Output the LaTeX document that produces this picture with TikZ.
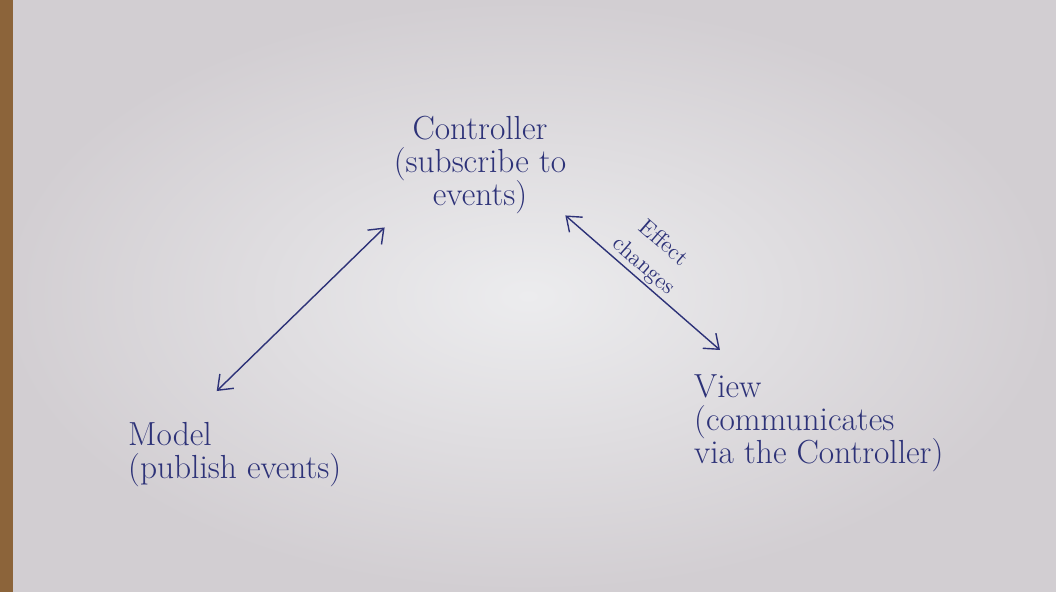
\documentclass[tikz,border=0pt]{standalone}
\usepackage{amsmath}
\usetikzlibrary{arrows.meta}

\definecolor{ink}{RGB}{45,50,120}
\definecolor{paperlight}{RGB}{236,236,238}
\definecolor{paperdark}{RGB}{210,206,210}
\definecolor{wood}{RGB}{140,100,58}

\begin{document}
\begin{tikzpicture}[x=0.02cm,y=-0.02cm,
    >={Straight Barb[length=2.6mm,width=4mm]},
    every node/.style={text=ink,font=\fontsize{19}{19}\selectfont},
    link/.style={<->,draw=ink,line width=0.8pt}]
    \useasboundingbox (0,0) rectangle (1056,592);
    % paper
    \shade[inner color=paperlight,outer color=paperdark] (0,0) rectangle (1056,592);
    \fill[wood] (0,0) rectangle (13,592);

    \node[align=center] (ctrl) at (480,165) {Controller\\(subscribe to\\events)};
    \node[align=left,anchor=north west] (model) at (122,416) {Model\\(publish events)};
    \node[align=left,anchor=north west] (view) at (688,368) {View\\(communicates\\via the Controller)};

    \draw[link] ([xshift=-0.06cm,yshift=-0.14cm]ctrl.south west) -- ([xshift=-0.36cm,yshift=0.5cm]model.north);
    \draw[link] ([xshift=-0.14cm,yshift=0.1cm]ctrl.south east) -- ([xshift=0.64cm,yshift=0.36cm]view.north west)
        node[pos=0.45,sloped,above,align=center,inner sep=1pt,font=\fontsize{13}{17}\selectfont] {Effect\\changes};
\end{tikzpicture}
\end{document}
